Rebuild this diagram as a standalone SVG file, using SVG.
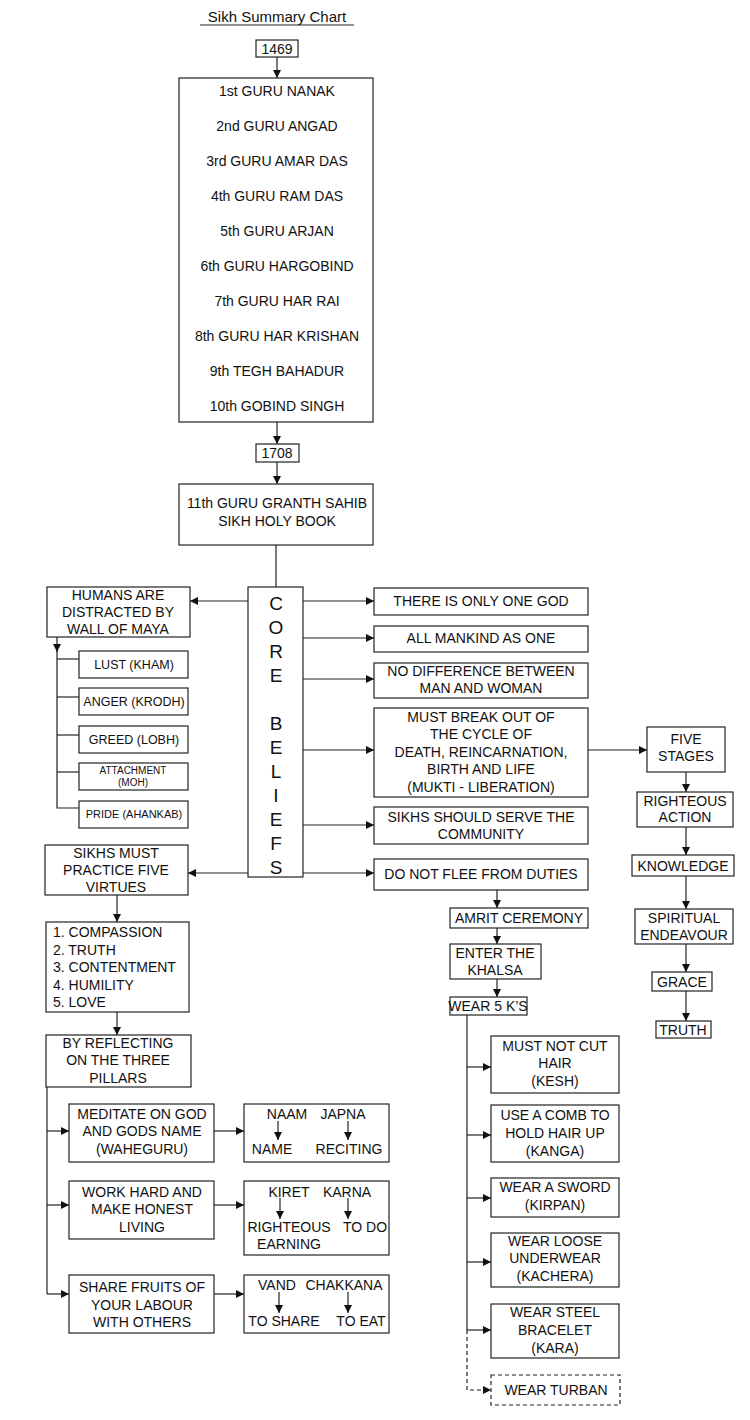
<svg xmlns="http://www.w3.org/2000/svg" width="750" height="1420" viewBox="0 0 750 1420">
<style>
rect{fill:#fff;stroke:#222;stroke-width:1.2}
text{font-family:"Liberation Sans",Arial,sans-serif;font-size:14px;fill:#111;text-anchor:middle}
.l{text-anchor:start}
.big{font-size:19px}
.m{font-size:12.5px}
.t{font-size:10px}
line,polyline{stroke:#222;stroke-width:1.2;fill:none}
.d{stroke-dasharray:4 3}
</style>
<defs><marker id="a" viewBox="0 0 10 10" refX="10" refY="5" markerWidth="8" markerHeight="8" markerUnits="userSpaceOnUse" orient="auto"><path d="M0,0L10,5L0,10z" fill="#111"/></marker></defs>
<text x="277" y="22" style="font-size:15px">Sikh Summary Chart</text>
<line x1="200" y1="25" x2="354" y2="25"/>
<g id="connectors">
<line x1="277" y1="57" x2="277" y2="78" marker-end="url(#a)"/>
<line x1="277" y1="422" x2="277" y2="444" marker-end="url(#a)"/>
<line x1="277" y1="462" x2="277" y2="484" marker-end="url(#a)"/>
<line x1="276" y1="545" x2="276" y2="587"/>
<line x1="248" y1="601" x2="190" y2="601" marker-end="url(#a)"/>
<line x1="248" y1="873" x2="188" y2="873" marker-end="url(#a)"/>
<line x1="57" y1="637" x2="57" y2="652" marker-end="url(#a)"/>
<polyline points="57,650 57,808 79,808"/>
<line x1="57" y1="659" x2="79" y2="659"/><line x1="57" y1="697" x2="79" y2="697"/><line x1="57" y1="735" x2="79" y2="735"/><line x1="57" y1="772" x2="79" y2="772"/>
<line x1="117" y1="895" x2="117" y2="922" marker-end="url(#a)"/>
<line x1="117" y1="1012" x2="117" y2="1035" marker-end="url(#a)"/>
<line x1="47" y1="1087" x2="47" y2="1294"/>
<line x1="47" y1="1131" x2="69" y2="1131" marker-end="url(#a)"/>
<line x1="47" y1="1205" x2="69" y2="1205" marker-end="url(#a)"/>
<line x1="47" y1="1294" x2="69" y2="1294" marker-end="url(#a)"/>
<line x1="214" y1="1131" x2="244" y2="1131" marker-end="url(#a)"/>
<line x1="214" y1="1205" x2="244" y2="1205" marker-end="url(#a)"/>
<line x1="214" y1="1294" x2="244" y2="1294" marker-end="url(#a)"/>
<line x1="303" y1="601" x2="374" y2="601" marker-end="url(#a)"/>
<line x1="303" y1="638" x2="374" y2="638" marker-end="url(#a)"/>
<line x1="303" y1="679" x2="374" y2="679" marker-end="url(#a)"/>
<line x1="303" y1="750" x2="374" y2="750" marker-end="url(#a)"/>
<line x1="303" y1="825" x2="374" y2="825" marker-end="url(#a)"/>
<line x1="303" y1="873" x2="374" y2="873" marker-end="url(#a)"/>
<line x1="588" y1="750" x2="647" y2="750" marker-end="url(#a)"/>
<line x1="686" y1="772" x2="686" y2="792" marker-end="url(#a)"/>
<line x1="686" y1="827" x2="686" y2="855" marker-end="url(#a)"/>
<line x1="686" y1="876" x2="686" y2="909" marker-end="url(#a)"/>
<line x1="686" y1="944" x2="686" y2="972" marker-end="url(#a)"/>
<line x1="686" y1="991" x2="686" y2="1021" marker-end="url(#a)"/>
<line x1="497" y1="890" x2="497" y2="908" marker-end="url(#a)"/>
<line x1="497" y1="928" x2="497" y2="944" marker-end="url(#a)"/>
<line x1="497" y1="979" x2="497" y2="997" marker-end="url(#a)"/>
<line x1="467" y1="1015" x2="467" y2="1330"/>
<polyline class="d" points="467,1330 467,1390 491,1390" marker-end="url(#a)"/>
<line x1="467" y1="1067" x2="491" y2="1067" marker-end="url(#a)"/>
<line x1="467" y1="1135" x2="491" y2="1135" marker-end="url(#a)"/>
<line x1="467" y1="1198" x2="491" y2="1198" marker-end="url(#a)"/>
<line x1="467" y1="1262" x2="491" y2="1262" marker-end="url(#a)"/>
<line x1="467" y1="1330" x2="491" y2="1330" marker-end="url(#a)"/>
</g>
<g id="y1469"><rect x="256" y="40" width="42" height="17"/><text x="277" y="54">1469</text></g>
<g id="gurus"><rect x="179" y="78" width="194" height="344"/>
<text x="277" y="96">1st GURU NANAK</text><text x="277" y="131">2nd GURU ANGAD</text><text x="277" y="166">3rd GURU AMAR DAS</text><text x="277" y="201">4th GURU RAM DAS</text><text x="277" y="236">5th GURU ARJAN</text><text x="277" y="271">6th GURU HARGOBIND</text><text x="277" y="306">7th GURU HAR RAI</text><text x="277" y="341">8th GURU HAR KRISHAN</text><text x="277" y="376">9th TEGH BAHADUR</text><text x="277" y="411">10th GOBIND SINGH</text></g>
<g id="y1708"><rect x="256" y="444" width="43" height="18"/><text x="277" y="458">1708</text></g>
<g id="granth"><rect x="179" y="484" width="194" height="61"/><text x="277" y="508">11th GURU GRANTH SAHIB</text><text x="277" y="526">SIKH HOLY BOOK</text></g>
<g id="core"><rect x="248" y="587" width="55" height="290"/>
<text class="big" x="276" y="610">C</text><text class="big" x="276" y="634">O</text><text class="big" x="276" y="658">R</text><text class="big" x="276" y="682">E</text><text class="big" x="276" y="730">B</text><text class="big" x="276" y="754">E</text><text class="big" x="276" y="778">L</text><text class="big" x="276" y="802">I</text><text class="big" x="276" y="826">E</text><text class="big" x="276" y="850">F</text><text class="big" x="276" y="874">S</text></g>
<g id="maya"><rect x="47" y="587" width="143" height="50"/><text x="118" y="600">HUMANS ARE</text><text x="118" y="617">DISTRACTED BY</text><text x="118" y="634">WALL OF MAYA</text></g>
<g id="lust"><rect x="79" y="651" width="109" height="27"/><text class="m" x="134" y="669">LUST (KHAM)</text></g>
<g id="anger"><rect x="79" y="688" width="109" height="27"/><text class="m" x="134" y="706">ANGER (KRODH)</text></g>
<g id="greed"><rect x="79" y="726" width="109" height="27"/><text class="m" x="134" y="744">GREED (LOBH)</text></g>
<g id="attach"><rect x="79" y="763" width="109" height="27"/><text class="t" x="133" y="774">ATTACHMENT</text><text class="t" x="133" y="786">(MOH)</text></g>
<g id="pride"><rect x="79" y="801" width="109" height="27"/><text x="134" y="818" style="font-size:11px">PRIDE (AHANKAB)</text></g>
<g id="virtues"><rect x="45" y="845" width="143" height="50"/><text x="116" y="858">SIKHS MUST</text><text x="116" y="875">PRACTICE FIVE</text><text x="116" y="892">VIRTUES</text></g>
<g id="list"><rect x="46" y="922" width="143" height="90"/><text class="l" x="53" y="937">1. COMPASSION</text><text class="l" x="53" y="955">2. TRUTH</text><text class="l" x="53" y="972">3. CONTENTMENT</text><text class="l" x="53" y="990">4. HUMILITY</text><text class="l" x="53" y="1007">5. LOVE</text></g>
<g id="pillars"><rect x="46" y="1035" width="145" height="52"/><text x="118" y="1048">BY REFLECTING</text><text x="118" y="1065">ON THE THREE</text><text x="118" y="1083">PILLARS</text></g>
<g id="meditate"><rect x="69" y="1104" width="145" height="58"/><text x="142" y="1119">MEDITATE ON GOD</text><text x="142" y="1136">AND GODS NAME</text><text x="142" y="1154">(WAHEGURU)</text></g>
<g id="naam"><rect x="244" y="1104" width="145" height="58"/><text x="287" y="1119">NAAM</text><text x="343" y="1119">JAPNA</text><text x="272" y="1154">NAME</text><text x="349" y="1154">RECITING</text>
<line x1="278" y1="1121" x2="278" y2="1140" marker-end="url(#a)"/><line x1="348" y1="1121" x2="348" y2="1140" marker-end="url(#a)"/></g>
<g id="work"><rect x="69" y="1181" width="145" height="58"/><text x="142" y="1197">WORK HARD AND</text><text x="142" y="1214">MAKE HONEST</text><text x="142" y="1232">LIVING</text></g>
<g id="kiret"><rect x="244" y="1181" width="145" height="74"/><text x="289" y="1197">KIRET</text><text x="347" y="1197">KARNA</text><text x="289" y="1232">RIGHTEOUS</text><text x="365" y="1232">TO DO</text><text x="289" y="1249">EARNING</text>
<line x1="280" y1="1198" x2="280" y2="1219" marker-end="url(#a)"/><line x1="348" y1="1198" x2="348" y2="1219" marker-end="url(#a)"/></g>
<g id="share"><rect x="69" y="1275" width="145" height="58"/><text x="142" y="1292">SHARE FRUITS OF</text><text x="142" y="1310">YOUR LABOUR</text><text x="142" y="1327">WITH OTHERS</text></g>
<g id="vand"><rect x="244" y="1275" width="145" height="58"/><text x="277" y="1290">VAND</text><text x="344" y="1290">CHAKKANA</text><text x="284" y="1326">TO SHARE</text><text x="361" y="1326">TO EAT</text>
<line x1="279" y1="1292" x2="279" y2="1313" marker-end="url(#a)"/><line x1="348" y1="1292" x2="348" y2="1313" marker-end="url(#a)"/></g>
<g id="onegod"><rect x="374" y="588" width="214" height="27"/><text x="481" y="606">THERE IS ONLY ONE GOD</text></g>
<g id="mankind"><rect x="374" y="626" width="214" height="26"/><text x="481" y="643">ALL MANKIND AS ONE</text></g>
<g id="nodiff"><rect x="374" y="663" width="214" height="35"/><text x="481" y="676">NO DIFFERENCE BETWEEN</text><text x="481" y="693">MAN AND WOMAN</text></g>
<g id="mukti"><rect x="374" y="708" width="214" height="89"/><text x="481" y="722">MUST BREAK OUT OF</text><text x="481" y="739">THE CYCLE OF</text><text x="481" y="757">DEATH, REINCARNATION,</text><text x="481" y="774">BIRTH AND LIFE</text><text x="481" y="792">(MUKTI - LIBERATION)</text></g>
<g id="serve"><rect x="374" y="807" width="214" height="37"/><text x="481" y="822">SIKHS SHOULD SERVE THE</text><text x="481" y="839">COMMUNITY</text></g>
<g id="duties"><rect x="374" y="859" width="214" height="31"/><text x="481" y="879">DO NOT FLEE FROM DUTIES</text></g>
<g id="five"><rect x="647" y="727" width="78" height="45"/><text x="686" y="744">FIVE</text><text x="686" y="761">STAGES</text></g>
<g id="righteous"><rect x="637" y="792" width="96" height="35"/><text x="685" y="806">RIGHTEOUS</text><text x="685" y="822">ACTION</text></g>
<g id="knowledge"><rect x="632" y="855" width="102" height="21"/><text x="683" y="871">KNOWLEDGE</text></g>
<g id="spiritual"><rect x="635" y="909" width="98" height="35"/><text x="684" y="923">SPIRITUAL</text><text x="684" y="940">ENDEAVOUR</text></g>
<g id="grace"><rect x="652" y="972" width="60" height="19"/><text x="682" y="987">GRACE</text></g>
<g id="truth"><rect x="656" y="1021" width="55" height="17"/><text x="683" y="1035">TRUTH</text></g>
<g id="amrit"><rect x="450" y="908" width="138" height="20"/><text x="519" y="923">AMRIT CEREMONY</text></g>
<g id="khalsa"><rect x="450" y="944" width="91" height="35"/><text x="495" y="958">ENTER THE</text><text x="495" y="975">KHALSA</text></g>
<g id="ks"><rect x="450" y="997" width="77" height="18"/><text x="488" y="1011">WEAR 5 K’S</text></g>
<g id="kesh"><rect x="491" y="1036" width="128" height="57"/><text x="555" y="1051">MUST NOT CUT</text><text x="555" y="1068">HAIR</text><text x="555" y="1086">(KESH)</text></g>
<g id="kanga"><rect x="491" y="1105" width="128" height="57"/><text x="555" y="1120">USE A COMB TO</text><text x="555" y="1138">HOLD HAIR UP</text><text x="555" y="1156">(KANGA)</text></g>
<g id="kirpan"><rect x="491" y="1178" width="128" height="39"/><text x="555" y="1192">WEAR A SWORD</text><text x="555" y="1210">(KIRPAN)</text></g>
<g id="kachera"><rect x="491" y="1233" width="128" height="54"/><text x="555" y="1246">WEAR LOOSE</text><text x="555" y="1263">UNDERWEAR</text><text x="555" y="1281">(KACHERA)</text></g>
<g id="kara"><rect x="491" y="1304" width="128" height="54"/><text x="555" y="1317">WEAR STEEL</text><text x="555" y="1335">BRACELET</text><text x="555" y="1353">(KARA)</text></g>
<g id="turban"><rect x="491" y="1375" width="129" height="30" style="stroke-dasharray:4 3"/><text x="556" y="1395">WEAR TURBAN</text></g>
</svg>
